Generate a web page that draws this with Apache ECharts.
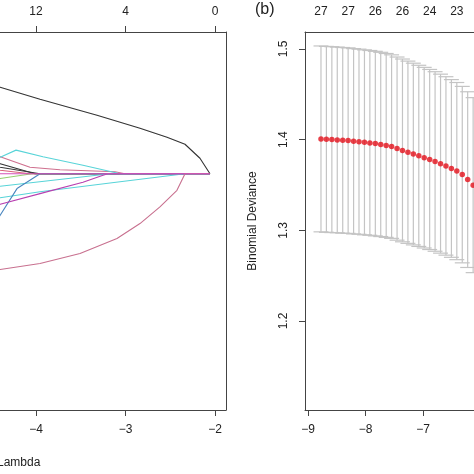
<!DOCTYPE html>
<html>
<head>
<meta charset="utf-8" />
<title>LASSO</title>
<script type="text/javascript" src="https://cdn.jsdelivr.net/npm/echarts@6/dist/echarts.min.js"></script>
<style>
html, body { margin: 0; padding: 0; background: #fff; }
#main { width: 474px; height: 474px; }
</style>
</head>
<body>
<div id="main"></div>
<script>
// (a) coefficient paths  [log lambda, coefficient]
var pathBlackTop = [[-4.50,0.943],[-4.40,0.915],[-3.955,0.788],[-3.318,0.619],[-2.838,0.481],[-2.536,0.386],[-2.335,0.312],[-2.168,0.164],[-2.056,0]];
var pathRoseLow = [[-4.50,-1.025],[-4.40,-1.014],[-3.955,-0.950],[-3.508,-0.844],[-3.095,-0.686],[-2.838,-0.527],[-2.615,-0.351],[-2.425,-0.175],[-2.335,0],[-2.056,0]];
var pathCyanHigh = [[-4.50,0.150],[-4.40,0.175],[-4.223,0.250],[-3.922,0.180],[-3.475,0.090],[-3.060,0],[-2.056,0]];
var pathRoseHigh = [[-4.50,0.210],[-4.40,0.180],[-4.067,0.069],[-3.732,0.042],[-3.117,0.021],[-3.006,0],[-2.056,0]];
var pathDark1 = [[-4.50,0.130],[-4.40,0.106],[-4.011,0],[-2.056,0]];
var pathDark2 = [[-4.50,0.085],[-4.40,0.069],[-3.955,0],[-2.056,0]];
var pathRed = [[-4.50,0.050],[-4.40,0.037],[-4.067,0],[-2.056,0]];
var pathGreen = [[-4.50,-0.065],[-4.40,-0.051],[-4.045,0],[-2.056,0]];
var pathCyanMid = [[-4.50,-0.145],[-4.40,-0.132],[-3.173,0],[-2.056,0]];
var pathCyanLow = [[-4.50,-0.265],[-4.40,-0.254],[-3.955,-0.190],[-3.061,-0.085],[-2.335,0],[-2.056,0]];
var pathPurple = [[-4.50,-0.350],[-4.40,-0.323],[-3.955,-0.210],[-3.475,-0.090],[-3.251,-0.016],[-3.196,0],[-2.056,0]];
var pathBlue = [[-4.50,-0.584],[-4.40,-0.439],[-4.212,-0.157],[-4.011,-0.034],[-3.955,0],[-2.056,0]];
var pathMagenta = [[-4.50,0],[-2.056,0]];

var leftTicks = [-4, -3, -2];
var leftTopDf = ['12', '4', '0'];

// (b) cross validation
var cvLogLambda = [-8.774,-8.680,-8.585,-8.491,-8.396,-8.302,-8.207,-8.113,-8.018,-7.924,
                   -7.829,-7.735,-7.640,-7.546,-7.451,-7.357,-7.262,-7.168,-7.073,-6.979,
                   -6.884,-6.790,-6.695,-6.601,-6.506,-6.412,-6.317,-6.223,-6.128];
var cvMean = [1.4008,1.4003,1.4000,1.3997,1.3992,1.3989,1.3982,1.3977,1.3970,1.3964,
              1.3956,1.3947,1.3936,1.3923,1.3901,1.3881,1.3861,1.3841,1.3821,1.3801,
              1.3781,1.3759,1.3735,1.3710,1.3682,1.3653,1.3614,1.3559,1.3498];
var cvSE = [0.1025,0.1025,0.1025,0.1024,0.1024,0.1023,0.1022,0.1021,0.1020,0.1019,
            0.1018,0.1016,0.1014,0.1012,0.1010,0.1008,0.1005,0.1002,0.0999,0.0996,
            0.0993,0.0990,0.0987,0.0984,0.0980,0.0977,0.0973,0.0969,0.0965];
var rightTopIdx = [0, 5, 10, 15, 20, 25];
var rightTopDf = ['27', '27', '26', '26', '24', '23'];
var rightTicks = [-9, -8, -7];
var devTicks = [1.2, 1.3, 1.4, 1.5];

var mychart = echarts.init(document.getElementById('main'));

var font = 'Liberation Sans, Arial, Helvetica, sans-serif';
var txt = '#222';
var boxColor = '#444';

function minus(v) {
    return String(v).replace('-', '\u2212');
}
function pick(list, labels, v) {
    for (var i = 0; i < list.length; i++) {
        if (Math.abs(list[i] - v) < 1e-6) return labels[i];
    }
    return '';
}

var errData = [];
var dotData = [];
var rightTopAt = [];
for (var i = 0; i < cvLogLambda.length; i++) {
    errData.push([cvLogLambda[i], cvMean[i] - cvSE[i], cvMean[i] + cvSE[i]]);
    dotData.push([cvLogLambda[i], cvMean[i]]);
}
for (var k = 0; k < rightTopIdx.length; k++) rightTopAt.push(cvLogLambda[rightTopIdx[k]]);

// error bars, caps as wide as glmnet draws them
function renderErr(params, api) {
    var x = api.value(0);
    var barw = 0.13;
    var top = api.coord([x, api.value(2)]);
    var bot = api.coord([x, api.value(1)]);
    var tl = api.coord([x - barw, api.value(2)]);
    var tr = api.coord([x + barw, api.value(2)]);
    var st = { stroke: '#c4c4c4', lineWidth: 1.2 };
    return {
        type: 'group',
        children: [
            { type: 'line', shape: { x1: top[0], y1: top[1], x2: bot[0], y2: bot[1] }, style: st },
            { type: 'line', shape: { x1: tl[0], y1: top[1], x2: tr[0], y2: top[1] }, style: st },
            { type: 'line', shape: { x1: tl[0], y1: bot[1], x2: tr[0], y2: bot[1] }, style: st }
        ]
    };
}

function pathSeries(data, color) {
    return {
        type: 'line', xAxisIndex: 0, yAxisIndex: 0, data: data,
        showSymbol: false, symbol: 'none', silent: true,
        lineStyle: { color: color, width: 1.1 }
    };
}

var lineStyle = { color: boxColor, width: 1 };
var labelBase = { fontSize: 12, color: txt, fontFamily: font };

mychart.setOption({
    animation: false,
    backgroundColor: '#fff',
    grid: [
        { left: 0, right: 248, top: 32, bottom: 64 },
        { left: 305, right: 0, top: 32, bottom: 64 }
    ],
    xAxis: [
        {
            gridIndex: 0, type: 'value', min: -4.402, max: -1.877, position: 'bottom',
            axisLine: { onZero: false, lineStyle: lineStyle }, splitLine: { show: false },
            axisTick: { customValues: leftTicks, length: 6, lineStyle: lineStyle },
            axisLabel: Object.assign({ customValues: leftTicks, margin: 14, formatter: minus }, labelBase)
        },
        {
            gridIndex: 0, type: 'value', min: -4.402, max: -1.877, position: 'top',
            axisLine: { onZero: false, lineStyle: lineStyle }, splitLine: { show: false },
            axisTick: { customValues: leftTicks, length: 6, lineStyle: lineStyle },
            axisLabel: Object.assign({ customValues: leftTicks, margin: 14,
                formatter: function (v) { return pick(leftTicks, leftTopDf, v); } }, labelBase)
        },
        {
            gridIndex: 1, type: 'value', min: -9.052, max: -6.113, position: 'bottom',
            axisLine: { onZero: false, lineStyle: lineStyle }, splitLine: { show: false },
            axisTick: { customValues: rightTicks, length: 6, lineStyle: lineStyle },
            axisLabel: Object.assign({ customValues: rightTicks, margin: 14, formatter: minus }, labelBase)
        },
        {
            gridIndex: 1, type: 'value', min: -9.052, max: -6.113, position: 'top',
            axisLine: { onZero: false, lineStyle: lineStyle }, splitLine: { show: false },
            axisTick: { show: false },
            axisLabel: Object.assign({ customValues: rightTopAt, margin: 14,
                formatter: function (v) { return pick(rightTopAt, rightTopDf, v); } }, labelBase)
        }
    ],
    yAxis: [
        {
            gridIndex: 0, type: 'value', min: -2.5, max: 1.5, position: 'right',
            axisLine: { show: true, onZero: false, lineStyle: lineStyle },
            axisTick: { show: false }, axisLabel: { show: false }, splitLine: { show: false }
        },
        {
            gridIndex: 1, type: 'value', min: 1.1018, max: 1.5187, position: 'left',
            name: 'Binomial Deviance', nameLocation: 'middle', nameGap: 46,
            nameTextStyle: { fontSize: 12, color: txt, fontFamily: font },
            axisLine: { show: true, onZero: false, lineStyle: lineStyle }, splitLine: { show: false },
            axisTick: { customValues: devTicks, length: 6, lineStyle: lineStyle },
            axisLabel: Object.assign({ customValues: devTicks, margin: 15, rotate: 90,
                formatter: function (v) { return v.toFixed(1); } }, labelBase)
        }
    ],
    graphic: [
        { type: 'text', left: 255, top: 2, style: { text: '(b)', fontSize: 16, fill: txt, fontFamily: font } },
        { type: 'text', style: { x: 7, y: 463, text: 'Log Lambda', textAlign: 'center', textVerticalAlign: 'middle',
            fontSize: 12, fill: txt, fontFamily: font } }
    ],
    series: [
        pathSeries(pathRed, '#d9607a'),
        pathSeries(pathGreen, '#95cf72'),
        pathSeries(pathDark1, '#333333'),
        pathSeries(pathDark2, '#3a3a3a'),
        pathSeries(pathRoseHigh, '#cf6f8e'),
        pathSeries(pathCyanHigh, '#58d4d8'),
        pathSeries(pathCyanMid, '#58d4d8'),
        pathSeries(pathCyanLow, '#58d4d8'),
        pathSeries(pathBlue, '#4a86bf'),
        pathSeries(pathPurple, '#b83fb0'),
        pathSeries(pathRoseLow, '#c8708f'),
        pathSeries(pathBlackTop, '#333333'),
        pathSeries(pathMagenta, '#d450b8'),
        {
            type: 'custom', xAxisIndex: 2, yAxisIndex: 1, data: errData,
            renderItem: renderErr, silent: true
        },
        {
            type: 'scatter', xAxisIndex: 2, yAxisIndex: 1, data: dotData,
            symbolSize: 5.5, silent: true, clip: false,
            itemStyle: { color: '#e3101a' }
        }
    ]
});
</script>
</body>
</html>
